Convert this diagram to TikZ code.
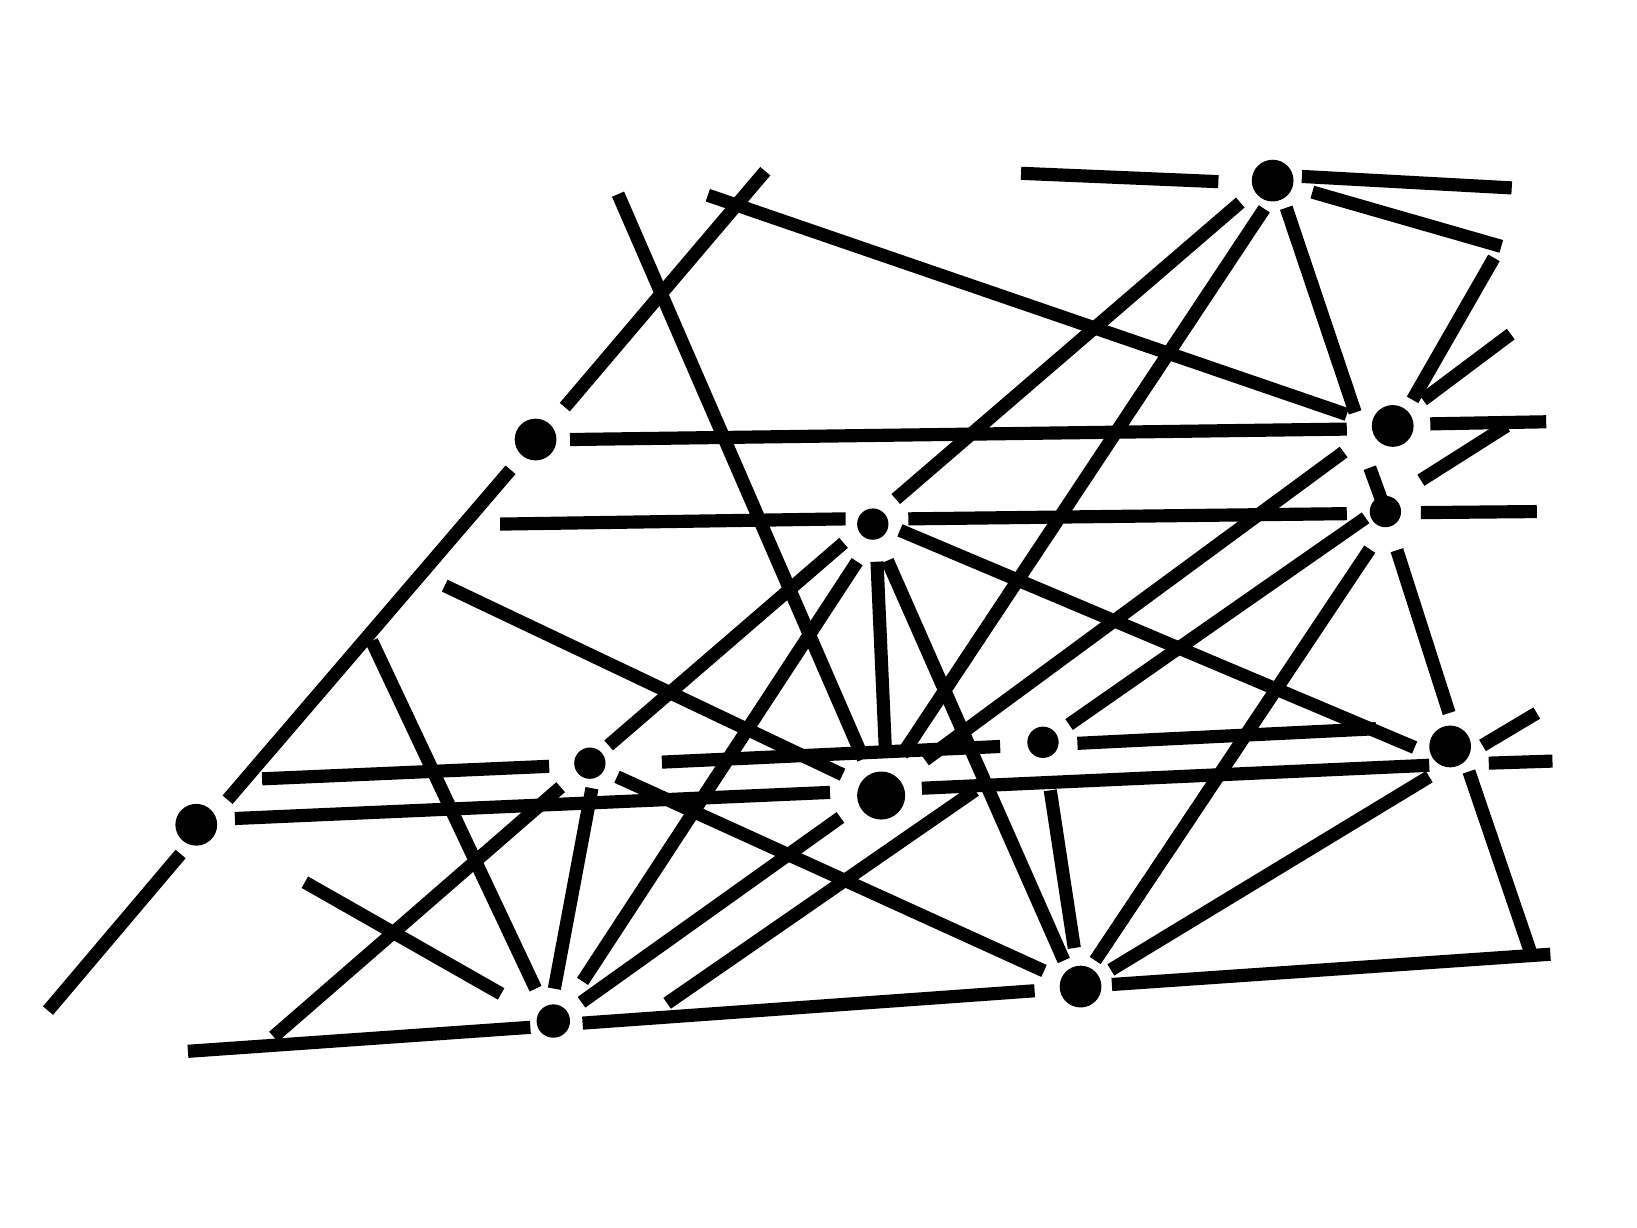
\documentclass[tikz,border=0pt]{standalone}
\begin{document}
\begin{tikzpicture}[x=0.5pt,y=-0.5pt,
  seg/.style={line width=6.3pt,line cap=butt},
  dotL/.style={circle,fill=black,inner sep=0pt,minimum size=20pt},
  dotM/.style={circle,fill=black,inner sep=0pt,minimum size=16pt},
  dotS/.style={circle,fill=black,inner sep=0pt,minimum size=15pt},
  dotXL/.style={circle,fill=black,inner sep=0pt,minimum size=23pt}]
\fill[white] (0,0) rectangle (1568,1176);
\useasboundingbox (0,0) rectangle (1568,1176);
% dots
\node[dotL] (n1) at (1219,173) {};
\node[dotL] (n2) at (513,421) {};
\node[dotL] (n3) at (1334,408) {};
\node[dotS] (n4) at (836,502) {};
\node[dotS] (n5) at (1327,490) {};
\node[dotS] (n6) at (565,731) {};
\node[dotS] (n7) at (999,711) {};
\node[dotL] (n8) at (1389,715) {};
\node[dotXL] (n9) at (844,762) {};
\node[dotL] (n10) at (188,790) {};
\node[dotL] (n11) at (1035,945) {};
\node[dotM] (n12) at (530,978) {};
% segments
\foreach \a/\b/\c/\d in {
978/166/1167/174, 1247/169/1448/180, 1257/184/1438/236, 1431/247/1353/383,
1447/320/1363/383, 1188/194/858/478, 1211/200/864/723, 1232/199/1298/395,
678/187/1290/397, 733/164/541/390, 592/186/827/727, 546/421/1290/411,
1370/406/1481/404, 1443/408/1361/460, 1312/448/1323/478, 1361/491/1472/490,
479/502/810/497, 870/497/1290/492, 489/450/218/766, 173/818/46/968,
862/508/1355/716, 1287/433/886/728, 1308/496/1024/694, 1312/526/1049/920,
1338/527/1388/683, 808/520/583/714, 821/538/558/940, 840/538/848/717,
850/537/1019/920, 426/561/807/742, 634/730/958/715, 1032/712/1318/698,
1420/714/1472/683, 1426/731/1487/729, 883/755/1369/733, 1369/744/1064/929,
1407/739/1466/912, 1065/943/1485/914, 1006/757/1029/908, 251/746/526/734,
225/784/795/759, 591/744/1000/930, 537/754/262/993, 567/755/531/947,
356/614/513/947, 292/845/480/952, 805/783/557/960, 934/757/639/961,
180/1007/508/984, 558/980/991/949}
  \draw[seg] (\a,\b) -- (\c,\d);
\end{tikzpicture}
\end{document}
